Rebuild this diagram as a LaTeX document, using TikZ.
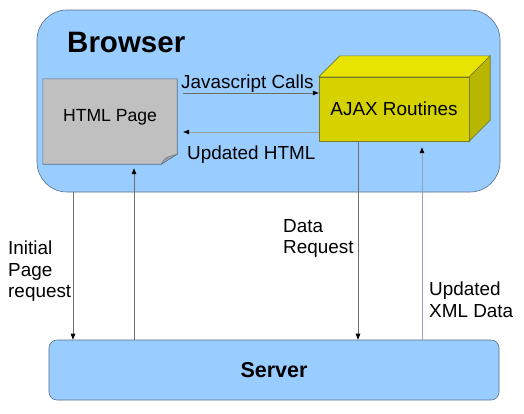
\documentclass[tikz,border=0pt]{standalone}
\usepackage{fontspec}
\setmainfont{Liberation Sans}
\usetikzlibrary{arrows.meta,calc}
\definecolor{boxblue}{RGB}{153,204,255}
\definecolor{boxedge}{RGB}{90,110,135}
\definecolor{pagegray}{RGB}{192,192,192}
\definecolor{foldgray}{RGB}{160,160,160}
\definecolor{yfront}{RGB}{214,210,0}
\definecolor{ytop}{RGB}{230,228,0}
\definecolor{yside}{RGB}{184,182,0}
\definecolor{yedge}{RGB}{120,120,40}
\definecolor{linegray}{RGB}{110,110,110}
\definecolor{lightline}{RGB}{150,160,175}
\tikzset{
  x=1pt, y=-1pt,
  lbl/.style={font=\fontsize{18.9}{21.5}\selectfont, inner sep=0pt},
  multilbl/.style={lbl, align=left, anchor=north west},
  arr/.style={draw=linegray, line width=0.8pt, -{Triangle[length=6pt,width=4.5pt,fill=black,color=black]}},
  lightarr/.style={arr, draw=lightline},
  bluebox/.style={draw=boxedge, fill=boxblue, line width=0.6pt},
}
\begin{document}
\begin{tikzpicture}
\useasboundingbox (0,0) rectangle (524,413);
\fill[white] (0,0) rectangle (524,413);

% browser
\node[bluebox, rounded corners=30pt, minimum width=463pt, minimum height=182pt] (browser) at (268.5,101) {};
\node[font=\fontsize{29.5}{32}\selectfont\bfseries, anchor=base west, inner sep=0pt] (btitle) at (67,52) {Browser};

% HTML page
\node[minimum width=134pt, minimum height=85pt, inner sep=0pt] (html) at (110,121.5) {};
\fill[pagegray, draw=boxedge, line width=0.6pt] (html.north west) -- (html.north east) -- ([yshift=10pt]html.south east) -- ([xshift=-16pt]html.south east) -- (html.south west) -- cycle;
\fill[foldgray, draw=boxedge, line width=0.4pt] ([yshift=10pt]html.south east) -- ([xshift=-16pt]html.south east) .. controls ([xshift=-13pt,yshift=5pt]html.south east) .. ([xshift=-10pt,yshift=7pt]html.south east) -- cycle;
\node[font=\fontsize{17.6}{20}\selectfont, inner sep=0pt] (htmltxt) at (110,117) {HTML Page};

% AJAX cube
\node[minimum width=150pt, minimum height=64pt, inner sep=0pt] (ajax) at (394,109) {};
\fill[ytop, draw=yedge, line width=0.6pt] (ajax.north west) -- ([xshift=21pt,yshift=21pt]ajax.north west) -- ([xshift=21pt,yshift=21pt]ajax.north east) -- (ajax.north east) -- cycle;
\fill[yside, draw=yedge, line width=0.6pt] (ajax.north east) -- ([xshift=21pt,yshift=21pt]ajax.north east) -- ([xshift=21pt,yshift=21pt]ajax.south east) -- (ajax.south east) -- cycle;
\fill[yfront, draw=yedge, line width=0.6pt] (ajax.north west) rectangle (ajax.south east);
\node[lbl] (ajaxtxt) at (394,109) {AJAX Routines};

% server
\node[bluebox, rounded corners=8pt, minimum width=450pt, minimum height=60pt] (server) at (274,370) {};
\node[font=\fontsize{21.5}{24}\selectfont\bfseries, inner sep=0pt] (stxt) at (274,370) {Server};

% horizontal connectors
\coordinate (jsy) at (0,93);
\coordinate (upy) at (0,132);
\draw[arr] ([xshift=6pt]html.east |- jsy) -- (ajax.west |- jsy);
\draw[lightarr] (ajax.west |- upy) -- ([xshift=6pt]html.east |- upy);
\node[lbl, anchor=base west] (jslbl) at (181,88) {Javascript Calls};
\node[lbl, anchor=base west] (uplbl) at (187,159) {Updated HTML};

% vertical connectors
\coordinate (c1) at (73,0);
\coordinate (c2) at (134,0);
\coordinate (c3) at (358,0);
\coordinate (c4) at (422,0);
\draw[arr] (browser.south -| c1) -- (server.north -| c1);
\draw[arr] (server.north -| c2) -- ([yshift=-4pt]html.south -| c2);
\draw[arr] (ajax.south -| c3) -- (server.north -| c3);
\draw[lightarr] (server.north -| c4) -- ([yshift=-6pt]ajax.south -| c4);

\node[multilbl] (initlbl) at (8,241) {Initial\\Page\\request};
\node[multilbl] (datalbl) at (283,219) {Data\\Request};
\node[multilbl] (xmllbl) at (429,282) {Updated\\XML Data};
\end{tikzpicture}
\end{document}
